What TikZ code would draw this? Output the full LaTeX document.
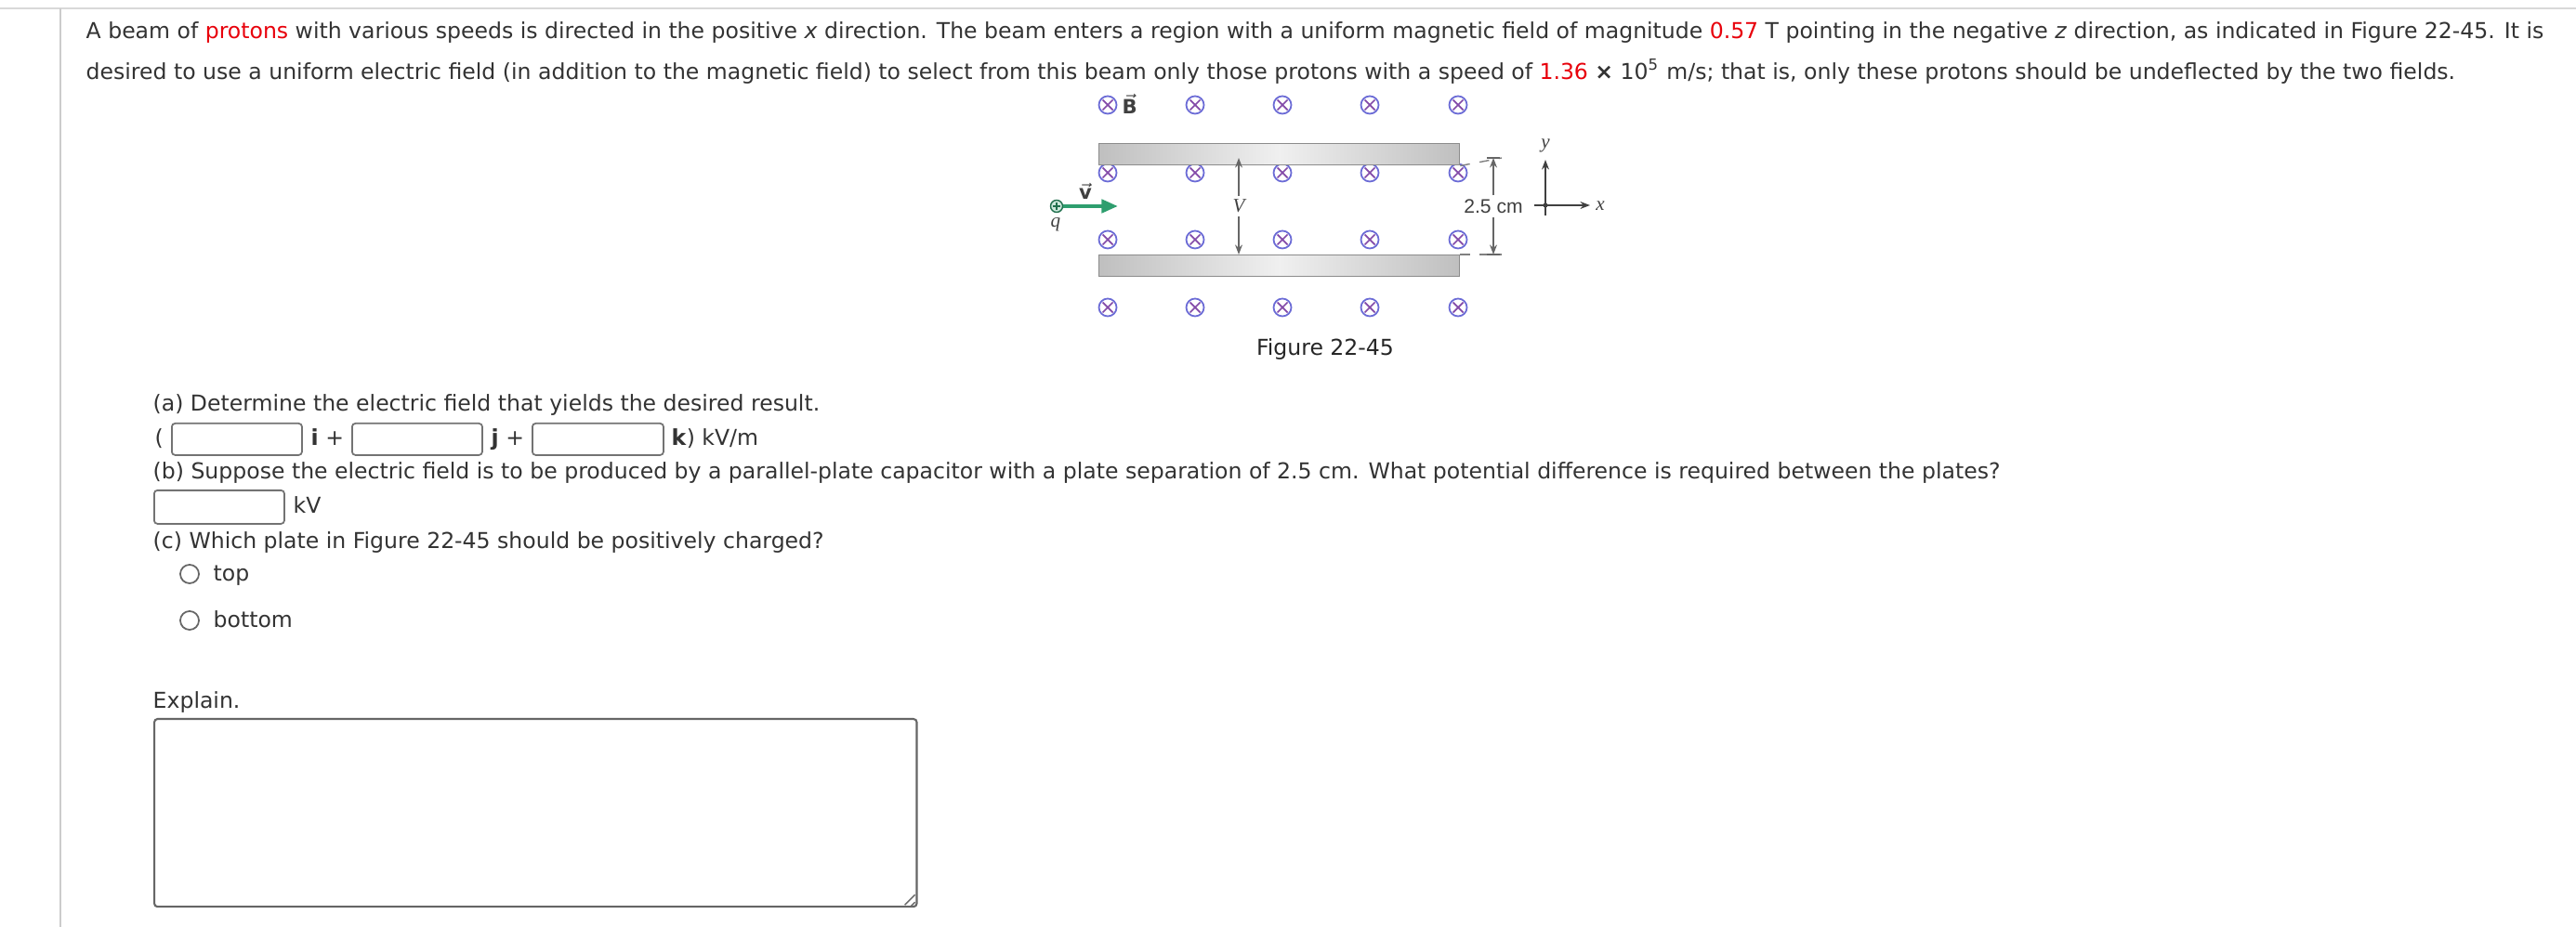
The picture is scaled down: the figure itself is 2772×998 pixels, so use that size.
\documentclass[tikz,border=0pt]{standalone}
\usepackage{fontspec}
\setmainfont{DejaVu Sans}
\newfontfamily\figfont{Liberation Serif}
\newfontfamily\figsans{Liberation Sans}
\usetikzlibrary{arrows.meta,calc}
\definecolor{txt}{HTML}{333333}
\definecolor{val}{HTML}{E8000B}
\definecolor{bfield}{HTML}{6B6BD6}
\definecolor{beam}{HTML}{2E9E6E}
\tikzset{
  T/.style={inner sep=0pt,anchor=base west,text=txt,font=\fontsize{6.7}{8}\selectfont},
  inbox/.style={draw=black!55,line width=0.5pt,rounded corners=1pt,inner sep=0pt,fill=white},
  cross/.style={draw=bfield,circle,minimum size=0.19cm,inner sep=0pt,line width=0.5pt},
  xline/.style={draw=bfield!70!purple,line width=0.5pt},
  plate/.style={draw=black!45,line width=0.3pt,left color=black!25,right color=black!25,middle color=black!6},
  radio/.style={draw=black!60,circle,minimum size=0.2cm,inner sep=0pt,line width=0.5pt},
  flab/.style={inner sep=0pt,text=black!75,font=\figfont\fontsize{6}{7}\selectfont},
}
\begin{document}
\begin{tikzpicture}[x=0.01cm,y=-0.01cm]
\useasboundingbox (0,0) rectangle (2772,998);
\fill[white] (0,0) rectangle (2772,998);
\draw[black!15,line width=0.6pt] (0,9) -- (2772,9);
\draw[black!20,line width=0.6pt] (65,9) -- (65,998);
% problem text
\node[T] (l1) at (92,42) {A beam of \textcolor{val}{protons} with various speeds is directed in the positive \textit{x} direction. The beam enters a region with a uniform magnetic field of magnitude \textcolor{val}{0.57} T pointing in the negative \textit{z} direction, as indicated in Figure 22-45. It is};
\node[T] (l2) at (92,86) {desired to use a uniform electric field (in addition to the magnetic field) to select from this beam only those protons with a speed of \textcolor{val}{1.36} \textbf{×} 10\textsuperscript{5} m/s; that is, only these protons should be undeflected by the two fields.};
% figure
\foreach \r [count=\i] in {113,186,258,331}{
  \foreach \c [count=\j] in {1192,1286,1380,1474,1569}{
    \node[cross] (c\i\j) at (\c,\r) {};
    \draw[xline] ($(c\i\j.center)+(-5.5,-5.5)$) -- ($(c\i\j.center)+(5.5,5.5)$);
    \draw[xline] ($(c\i\j.center)+(-5.5,5.5)$) -- ($(c\i\j.center)+(5.5,-5.5)$);
  }}
\node[flab,anchor=west,font=\figfont\bfseries\fontsize{6}{7}\selectfont] (B) at (1207,112) {$\vec{\mathbf{B}}$};
\node[plate,minimum width=3.88cm,minimum height=0.16cm,anchor=north west] (tp) at (1182,154) {};
\node[plate,minimum width=3.88cm,minimum height=0.16cm,anchor=north west] (bp) at (1182,274) {};
\draw[black!50,dashed,line width=0.4pt] (tp.south east) -- (1616,170);
\draw[black!50,dashed,line width=0.4pt] (bp.north east) -- (1616,274);
\node[flab,fill=white,inner sep=1pt,font=\figsans\fontsize{6}{7}\selectfont] (dim) at (1607,222) {2.5 cm};
\coordinate (dt) at (1607,170); \coordinate (db) at (1607,274);
\draw[black!60,line width=0.4pt,-{Stealth[length=3pt]}] (dim.north) -- (dt);
\draw[black!60,line width=0.4pt,-{Stealth[length=3pt]}] (dim.south) -- (db);
\draw[black!60,line width=0.5pt] (1600,170)--(1614,170) (1600,274)--(1614,274);
\node[flab,font=\figfont\itshape\fontsize{6}{7}\selectfont] (V) at (1333,222) {V};
\coordinate (vt) at (1333,170); \coordinate (vb) at (1333,274);
\draw[black!60,line width=0.4pt,-{Stealth[length=3pt]}] (V.north)++(0,-3) -- (vt);
\draw[black!60,line width=0.4pt,-{Stealth[length=3pt]}] (V.south)++(0,3) -- (vb);
% charge
\node[circle,draw=beam!70!black,fill=beam!25,minimum size=0.13cm,inner sep=0pt,line width=0.4pt] (q) at (1137,222) {};
\draw[beam!70!black,line width=0.4pt] (1133,222)--(1141,222) (1137,218)--(1137,226);
\coordinate (vend) at (1203,222);
\draw[beam,line width=1.2pt,-{Triangle[length=5pt,width=4pt]}] (q.east) -- (vend);
\node[flab,font=\figfont\itshape\fontsize{6}{7}\selectfont] (ql) at (1136,242) {q};
\node[flab,font=\figfont\bfseries\fontsize{6}{7}\selectfont] (vl) at (1168,206) {$\vec{\mathbf{v}}$};
% axes
\coordinate (o) at (1663,221);
\coordinate (ytip) at (1663,172); \coordinate (ybot) at (1663,232);
\coordinate (xtip) at (1711,221); \coordinate (xl) at (1651,221);
\draw[black!75,line width=0.6pt,-{Stealth[length=3pt]}] (ybot) -- (ytip);
\draw[black!75,line width=0.6pt,-{Stealth[length=3pt]}] (xl) -- (xtip);
\fill[black!75] (o) circle (2.5);
\node[flab,font=\figfont\itshape\fontsize{6}{7}\selectfont] (yl) at (1663,157) {y};
\node[flab,font=\figfont\itshape\fontsize{6}{7}\selectfont] (xlab) at (1722,222) {x};
\node[T,anchor=base,text=black!85] (cap) at (1426,383) {Figure 22-45};
% part a
\node[T] (pa) at (164,443) {(a) Determine the electric field that yields the desired result.};
\node[T] (par) at (166,480) {(};
\node[inbox,minimum width=1.40cm,minimum height=0.34cm,anchor=north west] (b1) at (184,455) {};
\node[T] (i) at (334,480) {\textbf{i} +};
\node[inbox,minimum width=1.40cm,minimum height=0.34cm,anchor=north west] (b2) at (378,455) {};
\node[T] (j) at (528,480) {\textbf{j} +};
\node[inbox,minimum width=1.41cm,minimum height=0.34cm,anchor=north west] (b3) at (572,455) {};
\node[T] (k) at (722,480) {\textbf{k}) kV/m};
% part b
\node[T] (pb) at (164,516) {(b) Suppose the electric field is to be produced by a parallel-plate capacitor with a plate separation of 2.5 cm. What potential difference is required between the plates?};
\node[inbox,minimum width=1.40cm,minimum height=0.36cm,anchor=north west] (b4) at (165,527) {};
\node[T] (kv) at (315,553) {kV};
% part c
\node[T] (pc) at (164,591) {(c) Which plate in Figure 22-45 should be positively charged?};
\node[radio] (r1) at (204,618) {};
\node[T] (top) at (229,626) {top};
\node[radio] (r2) at (204,668) {};
\node[T] (bot) at (229,676) {bottom};
\node[T] (ex) at (164,763) {Explain.};
\node[inbox,draw=black!60,line width=0.6pt,minimum width=8.20cm,minimum height=2.02cm,anchor=north west] (tb) at (165,773) {};
\draw[black!60,line width=0.4pt] (tb.south east)++(-3,-14) -- ++(-11,11) (tb.south east)++(-3,-6) -- ++(-5,5);
\end{tikzpicture}
\end{document}
